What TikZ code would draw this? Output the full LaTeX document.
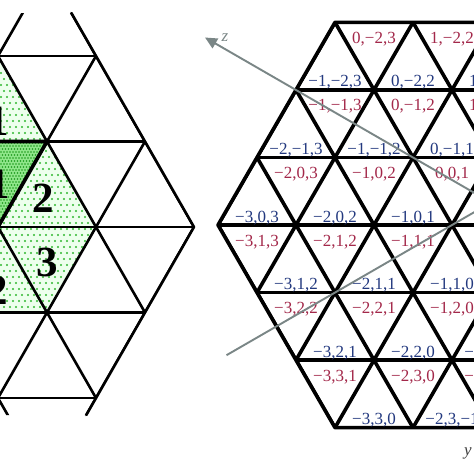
\documentclass[tikz,border=0pt]{standalone}
\usepackage{fontspec}
\setmainfont{Liberation Serif}
\usetikzlibrary{arrows.meta}
\definecolor{labblue}{HTML}{23397F}
\definecolor{labred}{HTML}{A3284A}
\definecolor{labgreen}{HTML}{93A83C}
\definecolor{axgray}{HTML}{7A8686}
\definecolor{dotgreen}{HTML}{2FB82F}
\definecolor{densebg}{HTML}{8FE68A}
\definecolor{densedot}{HTML}{1E9A1E}
\newcommand\lab{\fontsize{17}{17}\selectfont}
\newcommand\bigdigit{\fontsize{43}{43}\selectfont\bfseries}
\tikzset{
  lgrid/.style={line width=2.6pt, line cap=round, line join=round},
  rgrid/.style={line width=3.6pt, line cap=round, line join=round},
  uplab/.style={anchor=base, inner sep=0pt, font=\lab, text=labblue},
  dnlab/.style={anchor=base, inner sep=0pt, font=\lab, text=labred},
  digit/.style={inner sep=0pt, font=\bigdigit},
  axis/.style={line width=1.9pt, draw=axgray},
}
\begin{document}
\begin{tikzpicture}[x=1pt,y=-1pt]
\useasboundingbox (0,0) rectangle (474,474);
\clip (0,0) rectangle (474,474);
\fill[white] (0,0) rectangle (474,474);

% ---------------- left grid: green triangles ----------------
\begin{scope}
  \clip (-2,56) -- (-51,141.5) -- (47,141.5) -- cycle
        (47,141.5) -- (-2,227) -- (96,227) -- cycle
        (-2,227) -- (96,227) -- (47,312.5) -- cycle
        (-2,227) -- (-51,312.5) -- (47,312.5) -- cycle;
  \fill[white!93!green] (-60,50) rectangle (100,320);
  \foreach \j in {0,...,44}{
    \pgfmathsetmacro\off{mod(\j,2)*3}
    \foreach \i in {0,...,17}{
      \fill[dotgreen] ({\i*6+\off-2},{55+\j*6}) circle (1.1);
    }
  }
\end{scope}
\begin{scope}
  \clip (-51,141.5) -- (47,141.5) -- (-2,227) -- cycle;
  \fill[densebg] (-60,140) rectangle (50,230);
  \foreach \j in {0,...,29}{
    \pgfmathsetmacro\off{mod(\j,2)*1.5}
    \foreach \i in {0,...,17}{
      \fill[densedot] ({\i*3+\off-2},{140+\j*3}) circle (0.9);
    }
  }
\end{scope}

% ---------------- left grid: lines ----------------
\begin{scope}
  \clip (-5,13) -- (71.4,13) -- (194,227) -- (86.3,415) -- (-5,415) -- cycle;
  \foreach \y in {56,141.5,227,312.5,398}
    \draw[lgrid] (-10,\y) -- (210,\y);
  \foreach \k in {-4,...,1}
    \draw[lgrid] ({-2+98*\k-98},{56-171}) -- ++(392,684);
  \foreach \k in {0,...,5}
    \draw[lgrid] ({-2+98*\k+98},{56-171}) -- ++(-392,684);
\end{scope}
\draw[lgrid] (71.4,13) -- (194,227) -- (86.3,415);
\draw[line width=3.6pt, line join=round] (-51,141.5) -- (47,141.5) -- (-2,227) -- cycle;

\node[digit] (n1a) at (-2,121) {1};
\node[digit] (n1b) at (-1,184) {1};
\node[digit] (n2a) at (43,198) {2};
\node[digit] (n3)  at (47,262) {3};
\node[digit] (n2b) at (-3,290) {2};

% ---------------- right hexagon ----------------
\begin{scope}
  \clip (218,225) -- (335,22.35) -- (569,22.35) -- (686,225) -- (569,427.65) -- (335,427.65) -- cycle;
  \foreach \k in {0,...,6}
    \draw[rgrid] (200,{22.35+67.55*\k}) -- (700,{22.35+67.55*\k});
  \foreach \j in {-6,...,3}
    \draw[rgrid] ({335+78*\j},22.35) -- ++(234,405.3);
  \foreach \j in {0,...,7}
    \draw[rgrid] ({335+78*\j},22.35) -- ++(-234,405.3);
\end{scope}
\draw[rgrid] (218,225) -- (335,22.35) -- (569,22.35) -- (686,225) -- (569,427.65) -- (335,427.65) -- cycle;

% upward triangles (label near base)
\node[uplab] (u11) at (335,86.9)  {−1,−2,3};
\node[uplab] (u12) at (413,86.9)  {0,−2,2};
\node[uplab] (u13) at (491,86.9)  {1,−2,1};
\node[uplab] (u21) at (296,154.45) {−2,−1,3};
\node[uplab] (u22) at (374,154.45) {−1,−1,2};
\node[uplab] (u23) at (452,154.45) {0,−1,1};
\node[uplab] (u31) at (257,222) {−3,0,3};
\node[uplab] (u32) at (335,222) {−2,0,2};
\node[uplab] (u33) at (413,222) {−1,0,1};
\node[uplab, text=labgreen] (u34) at (491,222) {0,0,0};
\node[uplab] (u41) at (296,289.55) {−3,1,2};
\node[uplab] (u42) at (374,289.55) {−2,1,1};
\node[uplab] (u43) at (452,289.55) {−1,1,0};
\node[uplab] (u51) at (335,357.1) {−3,2,1};
\node[uplab] (u52) at (413,357.1) {−2,2,0};
\node[uplab] (u53) at (491,357.1) {−1,2,−1};
\node[uplab] (u61) at (374,424.65) {−3,3,0};
\node[uplab] (u62) at (452,424.65) {−2,3,−1};

% downward triangles (label near top)
\node[dnlab] (d11) at (374,43.35) {0,−2,3};
\node[dnlab] (d12) at (452,43.35) {1,−2,2};
\node[dnlab] (d21) at (335,110.9) {−1,−1,3};
\node[dnlab] (d22) at (413,110.9) {0,−1,2};
\node[dnlab] (d23) at (491,110.9) {1,−1,1};
\node[dnlab] (d31) at (296,178.45) {−2,0,3};
\node[dnlab] (d32) at (374,178.45) {−1,0,2};
\node[dnlab] (d33) at (452,178.45) {0,0,1};
\node[dnlab] (d41) at (257,246) {−3,1,3};
\node[dnlab] (d42) at (335,246) {−2,1,2};
\node[dnlab] (d43) at (413,246) {−1,1,1};
\node[dnlab] (d44) at (491,246) {0,1,0};
\node[dnlab] (d51) at (296,313.55) {−3,2,2};
\node[dnlab] (d52) at (374,313.55) {−2,2,1};
\node[dnlab] (d53) at (452,313.55) {−1,2,0};
\node[dnlab] (d61) at (335,381.1) {−3,3,1};
\node[dnlab] (d62) at (413,381.1) {−2,3,0};
\node[dnlab] (d63) at (491,381.1) {−1,3,−1};

% ---------------- axes ----------------
\coordinate (O) at (491,202.5);
\coordinate (zt) at (205,37.5);
\coordinate (xe) at (226.5,355.2);
\draw[axis, -{Triangle[length=12pt,width=11pt]}] (O) -- (zt);
\draw[axis] (O) -- (xe);
\node[font=\lab\itshape, text=axgray, inner sep=0pt] (zl) at (225,38) {z};
\node[font=\lab\itshape, text=black!75, inner sep=0pt] (yl) at (468,453) {y};
\end{tikzpicture}
\end{document}
